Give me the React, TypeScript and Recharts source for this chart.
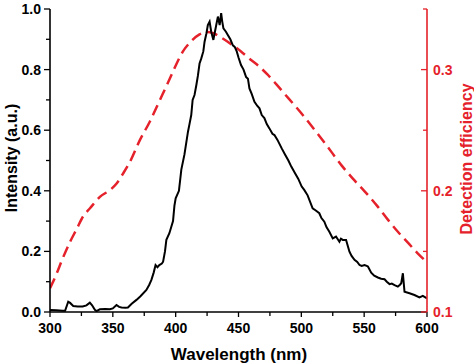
import React from "react";
import { ComposedChart, Line, XAxis, YAxis, Label } from "recharts";

const intensityWavelengths = [
  300, 305, 310, 312, 314.5, 316, 318.5, 322, 326, 329, 331.7, 333.5, 335.7, 337, 339.7, 344, 347.6, 350, 352.9, 355,
  356.9, 360, 362, 365, 368.8, 372, 376.7, 379, 380.7, 382.5, 384, 385.5, 387, 389, 390, 391.5, 392.6, 395, 397.9, 399,
  400, 402.6, 404.5, 407, 409.8, 411, 412.4, 413.5, 415, 416.5, 417.7, 419, 420.4, 422, 423, 424.5, 425.6, 427, 428.3,
  430, 431, 432.3, 433.6, 435, 436.2, 437, 438, 440, 441.5, 443.5, 445.5, 447, 448.6, 450, 452, 454, 456, 457.5, 458.7,
  460.5, 462.7, 465, 466.7, 468.5, 470.6, 472.5, 474.6, 477, 478.6, 481, 484.4, 487, 489.7, 492, 495, 497.5, 500.3,
  502.3, 505, 509, 511.5, 514.3, 516, 518.3, 520, 522.3, 525, 527.6, 529, 530.3, 531.5, 533, 535.6, 538.3, 540, 542.3,
  544.5, 546.3, 548, 550.3, 552, 553, 555.6, 558, 560.9, 563.5, 566.2, 568, 570.2, 572, 574.2, 576.8, 578.5, 579.5,
  580.8, 582.1, 586.1, 590, 594, 596.7, 600,
];
const intensityValues = [
  0.007, 0.006, 0.004, 0.004, 0.034, 0.03, 0.02, 0.018, 0.018, 0.022, 0.031, 0.022, 0.007, 0.003, 0.009, 0.01, 0.009,
  0.012, 0.023, 0.017, 0.015, 0.014, 0.015, 0.027, 0.04, 0.052, 0.073, 0.09, 0.106, 0.13, 0.155, 0.148, 0.155, 0.16,
  0.166, 0.2, 0.238, 0.26, 0.3, 0.35, 0.375, 0.4, 0.47, 0.52, 0.595, 0.62, 0.65, 0.7, 0.716, 0.75, 0.78, 0.82, 0.837,
  0.86, 0.892, 0.92, 0.947, 0.958, 0.925, 0.898, 0.92, 0.947, 0.975, 0.947, 0.986, 0.96, 0.936, 0.925, 0.914, 0.9,
  0.88, 0.875, 0.86, 0.84, 0.815, 0.8, 0.776, 0.77, 0.738, 0.72, 0.694, 0.68, 0.672, 0.65, 0.64, 0.62, 0.606, 0.588,
  0.584, 0.568, 0.54, 0.52, 0.5, 0.48, 0.458, 0.44, 0.414, 0.403, 0.385, 0.342, 0.335, 0.326, 0.31, 0.298, 0.28,
  0.265, 0.243, 0.249, 0.24, 0.232, 0.242, 0.238, 0.238, 0.199, 0.185, 0.172, 0.165, 0.155, 0.152, 0.155, 0.152,
  0.15, 0.13, 0.12, 0.114, 0.11, 0.108, 0.1, 0.092, 0.094, 0.089, 0.084, 0.09, 0.095, 0.128, 0.067, 0.062, 0.056,
  0.048, 0.053, 0.045,
];

const efficiencyWavelengths = [
  300, 305, 310, 316, 321, 326.4, 331.8, 339.7, 347.7, 353, 358, 363.7, 371.6, 379.4, 387.5, 392.9, 399, 405.8, 412,
  419, 425, 430, 437, 445.5, 452, 458.7, 466, 473, 480, 490, 500, 510, 519, 532, 541, 550, 560, 569, 577, 585, 592, 600,
];
const efficiencyValues = [
  0.1196, 0.131, 0.144, 0.158, 0.168, 0.179, 0.1856, 0.195, 0.2006, 0.206, 0.214, 0.224, 0.242, 0.257, 0.275, 0.287,
  0.301, 0.315, 0.323, 0.329, 0.331, 0.33, 0.326, 0.32, 0.315, 0.309, 0.303, 0.296, 0.288, 0.276, 0.264, 0.251, 0.239,
  0.221, 0.21, 0.2, 0.188, 0.176, 0.166, 0.157, 0.149, 0.141,
];

const xTicks = [300, 325, 350, 375, 400, 425, 450, 475, 500, 525, 550, 575, 600];
const leftTicks = [0, 0.1, 0.2, 0.3, 0.4, 0.5, 0.6, 0.7, 0.8, 0.9, 1.0];
const rightTicks = [0.1, 0.15, 0.2, 0.25, 0.3, 0.35];

const intensityData = intensityWavelengths.map((x, i) => ({ x, y: intensityValues[i] }));
const efficiencyData = efficiencyWavelengths.map((x, i) => ({ x, y: efficiencyValues[i] }));

const FONT = "'Liberation Sans', Arial, sans-serif";
const RED = "#e5222b";

const BottomTick = (props: any) => {
  const { x, y, payload } = props;
  const major = payload.value % 50 === 0;
  return (
    <g>
      <line x1={x} y1={y} x2={x} y2={y + (major ? 5 : 4)} stroke="#000" strokeWidth={1.3} />
      {major && (
        <text x={x} y={y + 21} textAnchor="middle" fontFamily={FONT} fontWeight="bold" fontSize={14} fill="#000">
          {payload.value}
        </text>
      )}
    </g>
  );
};

const TopTick = (props: any) => {
  const { x, y } = props;
  return <line x1={x} y1={y} x2={x} y2={y + 5} stroke="#000" strokeWidth={1.3} />;
};

const LeftTick = (props: any) => {
  const { x, y, payload } = props;
  const major = Math.round(payload.value * 10) % 2 === 0;
  return (
    <g>
      <line x1={x - (major ? 6 : 4)} y1={y} x2={x} y2={y} stroke="#000" strokeWidth={1.3} />
      {major && (
        <text x={x - 9} y={y + 5} textAnchor="end" fontFamily={FONT} fontWeight="bold" fontSize={14} fill="#000">
          {Number(payload.value).toFixed(1)}
        </text>
      )}
    </g>
  );
};

const RightTick = (props: any) => {
  const { x, y, payload } = props;
  const v = Math.round(payload.value * 100);
  const major = v % 10 === 0;
  return (
    <g>
      <line x1={x - (major ? 6 : 4)} y1={y} x2={x} y2={y} stroke={RED} strokeWidth={1.3} />
      {major && v < 35 && (
        <text x={x + 6} y={y + 5} textAnchor="start" fontFamily={FONT} fontWeight="bold" fontSize={14} fill={RED}>
          {(v / 100).toFixed(1)}
        </text>
      )}
    </g>
  );
};

export default function App() {
  return (
    <div style={{ position: "absolute", left: 0, top: 0, width: 474, height: 363, background: "#fff" }}>
      <ComposedChart width={474} height={363} margin={{ top: 9, right: 0, bottom: 0, left: 0 }}>
        <XAxis
          xAxisId="b"
          type="number"
          dataKey="x"
          domain={[300, 600]}
          ticks={xTicks}
          interval={0}
          allowDataOverflow
          height={51}
          tickSize={0}
          tickMargin={0}
          tick={<BottomTick />}
          axisLine={{ stroke: "#000", strokeWidth: 1.6 }}
        >
          <Label
            content={() => (
              <text x={239} y={360} textAnchor="middle" fontFamily={FONT} fontWeight="bold" fontSize={17} fill="#000">
                Wavelength (nm)
              </text>
            )}
          />
        </XAxis>
        <XAxis
          xAxisId="t"
          orientation="top"
          type="number"
          dataKey="x"
          domain={[300, 600]}
          ticks={xTicks}
          interval={0}
          allowDataOverflow
          height={0}
          tickSize={0}
          tickMargin={0}
          tick={<TopTick />}
          axisLine={{ stroke: "#000", strokeWidth: 1.6 }}
        />
        <YAxis
          yAxisId="l"
          type="number"
          domain={[0, 1]}
          ticks={leftTicks}
          interval={0}
          allowDataOverflow
          width={50}
          tickSize={0}
          tickMargin={0}
          tick={<LeftTick />}
          axisLine={{ stroke: "#000", strokeWidth: 1.6 }}
        >
          <Label
            content={() => (
              <text
                x={11}
                y={158}
                transform="rotate(-90 11 158)"
                textAnchor="middle"
                dominantBaseline="central"
                fontFamily={FONT}
                fontWeight="bold"
                fontSize={16}
                fill="#000"
              >
                Intensity (a.u.)
              </text>
            )}
          />
        </YAxis>
        <YAxis
          yAxisId="r"
          orientation="right"
          type="number"
          domain={[0.1, 0.35]}
          ticks={rightTicks}
          interval={0}
          allowDataOverflow
          width={47}
          tickSize={0}
          tickMargin={0}
          tick={<RightTick />}
          axisLine={{ stroke: RED, strokeWidth: 1.6 }}
        >
          <Label
            content={() => (
              <text
                x={466}
                y={159}
                transform="rotate(-90 466 159)"
                textAnchor="middle"
                dominantBaseline="central"
                fontFamily={FONT}
                fontWeight="bold"
                fontSize={16}
                fill={RED}
              >
                Detection efficiency
              </text>
            )}
          />
        </YAxis>
        <Line
          data={efficiencyData}
          dataKey="y"
          xAxisId="b"
          yAxisId="r"
          type="monotone"
          stroke={RED}
          strokeWidth={2.5}
          strokeDasharray="11 6"
          dot={false}
          activeDot={false}
          isAnimationActive={false}
        />
        <Line
          data={intensityData}
          dataKey="y"
          xAxisId="b"
          yAxisId="l"
          type="linear"
          stroke="#000"
          strokeWidth={2}
          dot={false}
          activeDot={false}
          isAnimationActive={false}
        />
      </ComposedChart>
    </div>
  );
}
